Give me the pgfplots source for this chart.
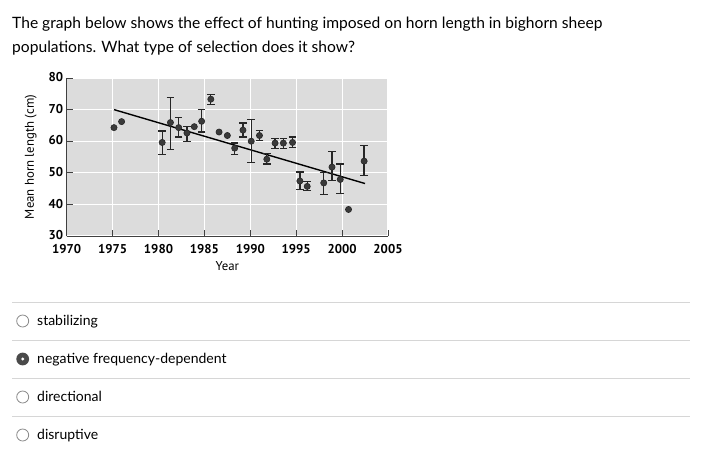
\documentclass[border=0pt]{standalone}
\usepackage{pgfplots}
\pgfplotsset{compat=1.18}
\usepackage{pgfplotstable}
\usepackage{fontspec}
\setmainfont{Lato}
\newfontfamily\chartfont{PT Sans}

\definecolor{panel}{HTML}{DCDCDC}
\definecolor{marker}{HTML}{3A3A3A}
\definecolor{rule}{HTML}{D6D6D6}
\definecolor{radio}{HTML}{8C8C8C}
\definecolor{radiofill}{HTML}{4A4A4A}

% year, mean horn length, upper and lower error
\pgfplotstableread{
x y ep em
1980.4 59.6 3.6 3.9
1981.3 65.9 7.9 8.5
1982.2 64.3 3.3 3.0
1983.1 62.6 2.0 2.6
1984.7 66.3 3.7 3.4
1985.7 73.3 1.5 1.6
1988.3 57.8 1.6 2.1
1989.2 63.5 2.3 2.2
1990.1 60.0 6.8 6.8
1991.0 61.8 1.6 1.5
1991.8 54.3 1.7 1.5
1992.7 59.4 1.4 1.6
1993.6 59.4 1.4 1.6
1994.6 59.6 1.7 1.7
1995.4 47.4 2.9 2.7
1996.2 45.7 1.5 1.4
1998.0 46.8 3.4 3.6
1998.9 51.8 5.0 4.3
1999.8 47.9 4.9 4.4
2002.4 53.7 4.9 4.5
}\witherr

% years with a single measurement
\pgfplotstableread{
x y
1975.15 64.3
1975.98 66.2
1983.9 64.6
1986.6 62.9
1987.5 61.8
2000.7 38.4
}\noerr

\begin{document}
\begin{tikzpicture}
\path[use as bounding box] (0pt,0pt) rectangle (704pt,-455pt);

% question
\node[anchor=base west, inner sep=0pt] at (12pt,-28pt)
  {\fontsize{15.6}{18}\selectfont The graph below shows the effect of hunting imposed on horn length in bighorn sheep};
\node[anchor=base west, inner sep=0pt] at (12pt,-52pt)
  {\fontsize{15.6}{18}\selectfont populations. What type of selection does it show?};

\begin{axis}[
  at={(66.7pt,-236pt)}, anchor=origin,
  scale only axis, width=321.3pt, height=158pt,
  xmin=1970, xmax=2005, ymin=30, ymax=80,
  xtick={1970,1975,...,2005}, ytick={30,40,...,80},
  axis background/.style={fill=panel},
  grid=major, major grid style={white, line width=1.2pt},
  axis x line*=bottom, axis y line*=left,
  axis line style={black!75, line width=0.9pt, -},
  tick align=inside, major tick length=6pt,
  tick style={black!75, line width=0.9pt},
  /pgf/number format/1000 sep={},
  /pgf/number format/assume math mode=true,
  ticklabel style={font=\chartfont\bfseries\fontsize{12.8}{14}\selectfont},
  xticklabel style={yshift=-4.5pt},
  yticklabel style={yshift=0.8pt},
  xlabel={Year},
  ylabel={Mean horn length (cm)},
  label style={font=\chartfont\fontsize{12.8}{14}\selectfont},
  xlabel style={yshift=-1pt},
  ylabel style={yshift=5pt},
  clip=false,
]
% fitted trend
\addplot[black, line width=1.4pt] coordinates {(1975.15,70.0) (2002.5,46.6)};
% yearly means with error bars
\addplot[only marks, mark=*, mark size=3.1pt,
  mark options={fill=marker, draw=black!85, line width=0.6pt},
  error bars/.cd, y dir=both, y explicit,
  error bar style={black!85, line width=1.3pt},
  error mark options={rotate=90, mark size=3.8pt, line width=1.3pt, black!85}]
  table[x=x, y=y, y error plus=ep, y error minus=em] {\witherr};
\addplot[only marks, mark=*, mark size=3.1pt,
  mark options={fill=marker, draw=black!85, line width=0.6pt}]
  table[x=x, y=y] {\noerr};
\end{axis}

% answer choices
\foreach \yy in {302.3,340.3,378.3,416.3}
  \draw[rule, line width=0.8pt] (12pt,-\yy pt) -- (690pt,-\yy pt);
\draw[radio, line width=0.8pt, fill=white] (22.7pt,-321pt) circle (6pt);
\fill[radiofill] (22.7pt,-359pt) circle (6.4pt);
\fill[white] (22.7pt,-359pt) circle (1.6pt);
\draw[radio, line width=0.8pt, fill=white] (22.7pt,-397pt) circle (6pt);
\draw[radio, line width=0.8pt, fill=white] (22.7pt,-435pt) circle (6pt);

\node[anchor=base west, inner sep=0pt] at (37pt,-325.7pt) {\fontsize{14}{17}\selectfont stabilizing};
\node[anchor=base west, inner sep=0pt] at (37pt,-363.7pt) {\fontsize{14}{17}\selectfont negative frequency-dependent};
\node[anchor=base west, inner sep=0pt] at (37pt,-401.5pt) {\fontsize{14}{17}\selectfont directional};
\node[anchor=base west, inner sep=0pt] at (37pt,-439.5pt) {\fontsize{14}{17}\selectfont disruptive};
\end{tikzpicture}
\end{document}
